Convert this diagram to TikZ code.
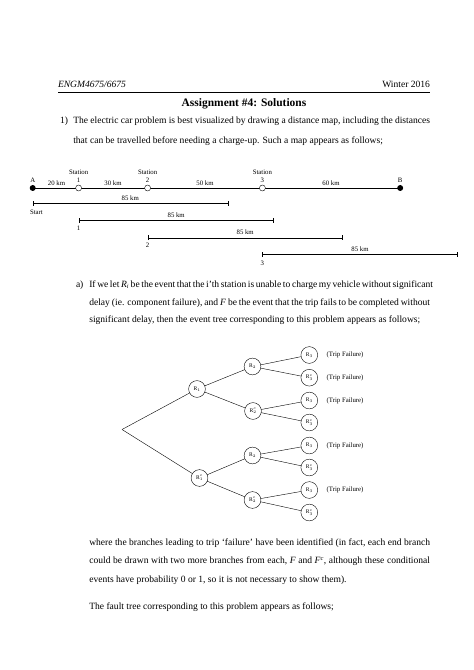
\documentclass[tikz,border=0pt]{standalone}
\usepackage{fontspec}
\setmainfont{Liberation Serif}
\usetikzlibrary{arrows.meta}
\newcommand\evR[1]{$\mathrm{R}_{#1}$}
\newcommand\evRc[1]{$\mathrm{R}^{c}_{#1}$}
\begin{document}
\begin{tikzpicture}[x=1.2553pt,y=-1.2553pt,
  every node/.style={inner sep=0pt,outer sep=0pt},
  body/.style={font=\fontsize{12}{14}\selectfont,anchor=mid west},
  bodyr/.style={font=\fontsize{12}{14}\selectfont,anchor=mid east},
  small/.style={font=\fontsize{8.5}{10}\selectfont},
  lbl/.style={small,anchor=mid},
  dot/.style={circle,fill=black,minimum size=7.5pt},
  stn/.style={circle,draw,fill=white,minimum size=7.5pt,line width=0.5pt},
  rangebar/.style={line width=0.5pt,{Bar[width=6pt]}-{Bar[width=6pt]}},
  ev/.style={circle,draw,minimum size=21pt,line width=0.5pt,font=\fontsize{7}{8}\selectfont},
  br/.style={line width=0.5pt},
  fail/.style={small,anchor=mid west}
]
\useasboundingbox[fill=white] (0,0) rectangle (474,670);

% header
\node[body,font=\itshape\fontsize{12}{14}\selectfont] (hl) at (58,86) {ENGM4675/6675};
\node[bodyr] (hr) at (430,86) {Winter 2016};
\draw[line width=0.6pt] (58,92) -- (430,92);
\node[font=\bfseries\fontsize{14.4}{17}\selectfont,anchor=mid] (title) at (244,105) {Assignment \#4: Solutions};

% item 1
\node[body] (n1) at (60,121.7) {1)};
\node[body] (t1a) at (73.3,121.7) {\makebox[447.8pt][s]{The electric car problem is best visualized by drawing a distance map, including the distances}};
\node[body] (t1b) at (73.3,141.5) {that can be travelled before needing a charge-up. Such a map appears as follows;};

% distance map
\draw[line width=0.5pt] (32.7,188) -- (400.2,188);
\node[dot] (A) at (32.7,188) {};
\node[stn] (S1) at (78.6,188) {};
\node[stn] (S2) at (147.6,188) {};
\node[stn] (S3) at (262.4,188) {};
\node[dot] (B) at (400.2,188) {};
\node[lbl] (lA) at (32.7,180.5) {A};
\node[lbl] (lB) at (400.2,180.5) {B};
\node[lbl] (st1) at (78.6,172.5) {Station};
\node[lbl] (nu1) at (78.6,180.5) {1};
\node[lbl] (st2) at (147.6,172.5) {Station};
\node[lbl] (nu2) at (147.6,180.5) {2};
\node[lbl] (st3) at (262.4,172.5) {Station};
\node[lbl] (nu3) at (262.4,180.5) {3};
\node[lbl] (d1) at (56.5,183.5) {20 km};
\node[lbl] (d2) at (113,183.5) {30 km};
\node[lbl] (d3) at (205,183.5) {50 km};
\node[lbl] (d4) at (331,183.5) {60 km};

\coordinate (r1s) at (32.7,203.3);  \coordinate (r1e) at (227.9,203.3);
\coordinate (r2s) at (78.6,220.3);  \coordinate (r2e) at (273.8,220.3);
\coordinate (r3s) at (147.6,237.7); \coordinate (r3e) at (342.8,237.7);
\coordinate (r4s) at (262.4,254.5); \coordinate (r4e) at (457.6,254.5);
\draw[rangebar] (r1s) -- (r1e);
\draw[rangebar] (r2s) -- (r2e);
\draw[rangebar] (r3s) -- (r3e);
\draw[rangebar] (r4s) -- (r4e);
\node[lbl] (k1) at (130.3,198.3) {85 km};
\node[lbl] (k2) at (176.2,215.3) {85 km};
\node[lbl] (k3) at (245.2,232.7) {85 km};
\node[lbl] (k4) at (360,249.5) {85 km};
\node[small,anchor=mid west] (start) at (30,212.3) {Start};
\node[lbl] (b1) at (78.6,228.5) {1};
\node[lbl] (b2) at (147.6,246) {2};
\node[lbl] (b3) at (262.4,263.5) {3};

% item a
\node[body] (na) at (76,285.7) {a)};
\node[body] (ta1) at (89.3,285.7) {\makebox[427.7pt][s]{If we let \textit{R}\textsubscript{\textit{i}} be the event that the i’th station is unable to charge my vehicle without significant}};
\node[body] (ta2) at (89.3,303.3) {\makebox[427.7pt][s]{delay (ie. component failure), and \textit{F} be the event that the trip fails to be completed without}};
\node[body] (ta3) at (89.3,320.3) {significant delay, then the event tree corresponding to this problem appears as follows;};

% event tree
\coordinate (root) at (122,429.5);
\node[ev] (R1) at (197,389) {\evR{1}};
\node[ev] (R1c) at (199.5,478) {\evRc{1}};
\node[ev] (R2a) at (252.5,366.5) {\evR{2}};
\node[ev] (R2ca) at (253,411) {\evRc{2}};
\node[ev] (R2b) at (252.5,455.5) {\evR{2}};
\node[ev] (R2cb) at (252.5,500) {\evRc{2}};
\node[ev] (R3a) at (309.3,355) {\evR{3}};
\node[ev] (R3b) at (309.3,377.7) {\evRc{3}};
\node[ev] (R3c) at (309.3,400.5) {\evR{3}};
\node[ev] (R3d) at (309.3,422.5) {\evRc{3}};
\node[ev] (R3e) at (309.3,445.5) {\evR{3}};
\node[ev] (R3f) at (309.3,467.5) {\evRc{3}};
\node[ev] (R3g) at (309.3,490) {\evR{3}};
\node[ev] (R3h) at (309.3,512.5) {\evRc{3}};
\draw[br] (root) -- (R1);
\draw[br] (root) -- (R1c);
\draw[br] (R1) -- (R2a);
\draw[br] (R1) -- (R2ca);
\draw[br] (R1c) -- (R2b);
\draw[br] (R1c) -- (R2cb);
\draw[br] (R2a) -- (R3a);
\draw[br] (R2a) -- (R3b);
\draw[br] (R2ca) -- (R3c);
\draw[br] (R2ca) -- (R3d);
\draw[br] (R2b) -- (R3e);
\draw[br] (R2b) -- (R3f);
\draw[br] (R2cb) -- (R3g);
\draw[br] (R2cb) -- (R3h);
\node[fail] (f1) at (326.7,355) {(Trip Failure)};
\node[fail] (f2) at (326.7,377.7) {(Trip Failure)};
\node[fail] (f3) at (326.7,400.5) {(Trip Failure)};
\node[fail] (f4) at (326.7,445.5) {(Trip Failure)};
\node[fail] (f5) at (326.7,490) {(Trip Failure)};

% bottom text
\node[body] (w1) at (89.3,543.3) {\makebox[427.7pt][s]{where the branches leading to trip ‘failure’ have been identified (in fact, each end branch}};
\node[body] (w2) at (89.3,561.7) {\makebox[427.7pt][s]{could be drawn with two more branches from each, \textit{F} and \textit{F}\textsuperscript{\textit{c}}, although these conditional}};
\node[body] (w3) at (89.3,581) {events have probability 0 or 1, so it is not necessary to show them).};
\node[body] (w4) at (89.3,607.3) {The fault tree corresponding to this problem appears as follows;};
\end{tikzpicture}
\end{document}
